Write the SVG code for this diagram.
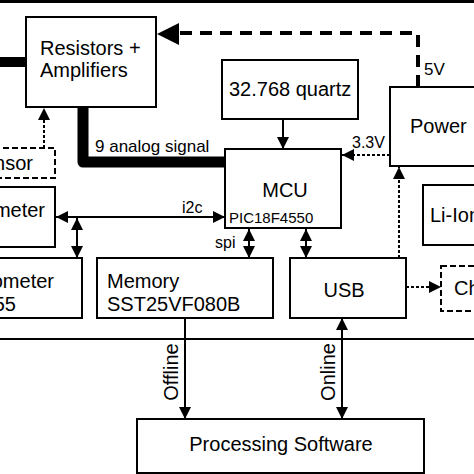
<svg xmlns="http://www.w3.org/2000/svg" width="474" height="474" viewBox="0 0 474 474">
<style>
text{font-family:"Liberation Sans",Arial,sans-serif;fill:#000}
.box{fill:#fff;stroke:#000;stroke-width:2}
.dbox{fill:#fff;stroke:#000;stroke-width:2;stroke-dasharray:6 3}
.l{font-size:20px}
.s{font-size:16px}
.c{fill:none;stroke:#000;stroke-width:2}
.dot{fill:none;stroke:#000;stroke-width:2;stroke-dasharray:3 2}
</style>
<defs>
<marker id="a" viewBox="0 0 12 12" refX="12" refY="6" markerWidth="12" markerHeight="12" markerUnits="userSpaceOnUse" orient="auto-start-reverse"><path d="M0,0 L12,6 L0,12 z" fill="#000"/></marker>
<marker id="big" viewBox="0 0 22 22" refX="22" refY="11" markerWidth="22" markerHeight="22" markerUnits="userSpaceOnUse" orient="auto"><path d="M0,0 L22,11 L0,22 z" fill="#000"/></marker>
</defs>
<line x1="0" y1="1.5" x2="474" y2="1.5" stroke="#000" stroke-width="3"/>
<line x1="0" y1="339" x2="474" y2="339" stroke="#000" stroke-width="2"/>
<g id="connectors">
<line x1="0" y1="62" x2="26" y2="62" stroke="#000" stroke-width="10"/>
<path d="M83,107 V162 H225" fill="none" stroke="#000" stroke-width="11" stroke-linejoin="round"/>
<path d="M418,87 V33 H179" fill="none" stroke="#000" stroke-width="4" stroke-dasharray="12 8"/>
<polygon points="157,34 179,23 179,45" fill="#000"/>
<path class="c" d="M283,119 V149" marker-end="url(#a)"/>
<path class="dot" d="M390,155 H342" marker-end="url(#a)"/>
<path class="dot" d="M399,258 V167" marker-end="url(#a)"/>
<path class="dot" d="M406,287 H441" marker-end="url(#a)"/>
<path class="dot" d="M44,148 V108" marker-end="url(#a)"/>
<path class="c" d="M56,217 H225" marker-start="url(#a)" marker-end="url(#a)"/>
<path class="c" d="M77,218 V258" marker-start="url(#a)" marker-end="url(#a)"/>
<path class="c" d="M249,229 V258" marker-start="url(#a)" marker-end="url(#a)"/>
<path class="c" d="M306,229 V258" marker-start="url(#a)" marker-end="url(#a)"/>
<path class="c" d="M185,318 V419" marker-end="url(#a)"/>
<path class="c" d="M342,318 V419" marker-start="url(#a)" marker-end="url(#a)"/>
<text class="s" x="95" y="152" style="font-size:17px">9 analog signal</text>
<text class="s" x="424" y="75" style="font-size:17px">5V</text>
<text class="s" x="352" y="148">3.3V</text>
<text class="s" x="182" y="213">i2c</text>
<text class="s" x="215" y="248">spi</text>
<text class="l" x="178" y="372" text-anchor="middle" transform="rotate(-90 178 372)">Offline</text>
<text class="l" x="335" y="372" text-anchor="middle" transform="rotate(-90 335 372)">Online</text>
</g>
<g id="resistors">
<rect class="box" x="26" y="17" width="130" height="90"/>
<text class="l" x="40" y="55">Resistors +</text>
<text class="l" x="40" y="77">Amplifiers</text>
</g>
<g id="quartz">
<rect class="box" x="222" y="60" width="136" height="59"/>
<text class="l" x="229" y="96">32.768 quartz</text>
</g>
<g id="power">
<rect class="box" x="390" y="87" width="100" height="79"/>
<text class="l" x="410" y="133">Power</text>
</g>
<g id="sensor">
<rect class="dbox" x="-60" y="148" width="115" height="30"/>
<text class="l" x="33" y="170" text-anchor="end">nsor</text>
</g>
<g id="mcu">
<rect class="box" x="225" y="149" width="116" height="79"/>
<text class="l" x="285" y="197" text-anchor="middle">MCU</text>
<text x="229" y="223" style="font-size:15px">PIC18F4550</text>
</g>
<g id="meter1">
<rect class="box" x="-60" y="187" width="115" height="60"/>
<text class="l" x="45" y="217" text-anchor="end">meter</text>
</g>
<g id="liion">
<rect class="box" x="423" y="185" width="70" height="60"/>
<text class="l" x="430" y="222">Li-Ion</text>
</g>
<g id="meter2">
<rect class="box" x="-60" y="258" width="142" height="60"/>
<text class="l" x="54" y="288" text-anchor="end">ometer</text>
<text class="l" x="16" y="311" text-anchor="end">55</text>
</g>
<g id="memory">
<rect class="box" x="97" y="258" width="176" height="60"/>
<text class="l" x="107" y="288">Memory</text>
<text class="l" x="107" y="311">SST25VF080B</text>
</g>
<g id="usb">
<rect class="box" x="290" y="258" width="116" height="60"/>
<text class="l" x="344" y="297" text-anchor="middle">USB</text>
</g>
<g id="charger">
<rect class="dbox" x="441" y="266" width="60" height="45"/>
<text class="l" x="454" y="295">Ch</text>
</g>
<g id="processing">
<rect class="box" x="137" y="419" width="287" height="54"/>
<text class="l" x="281" y="451" text-anchor="middle">Processing Software</text>
</g>
</svg>
